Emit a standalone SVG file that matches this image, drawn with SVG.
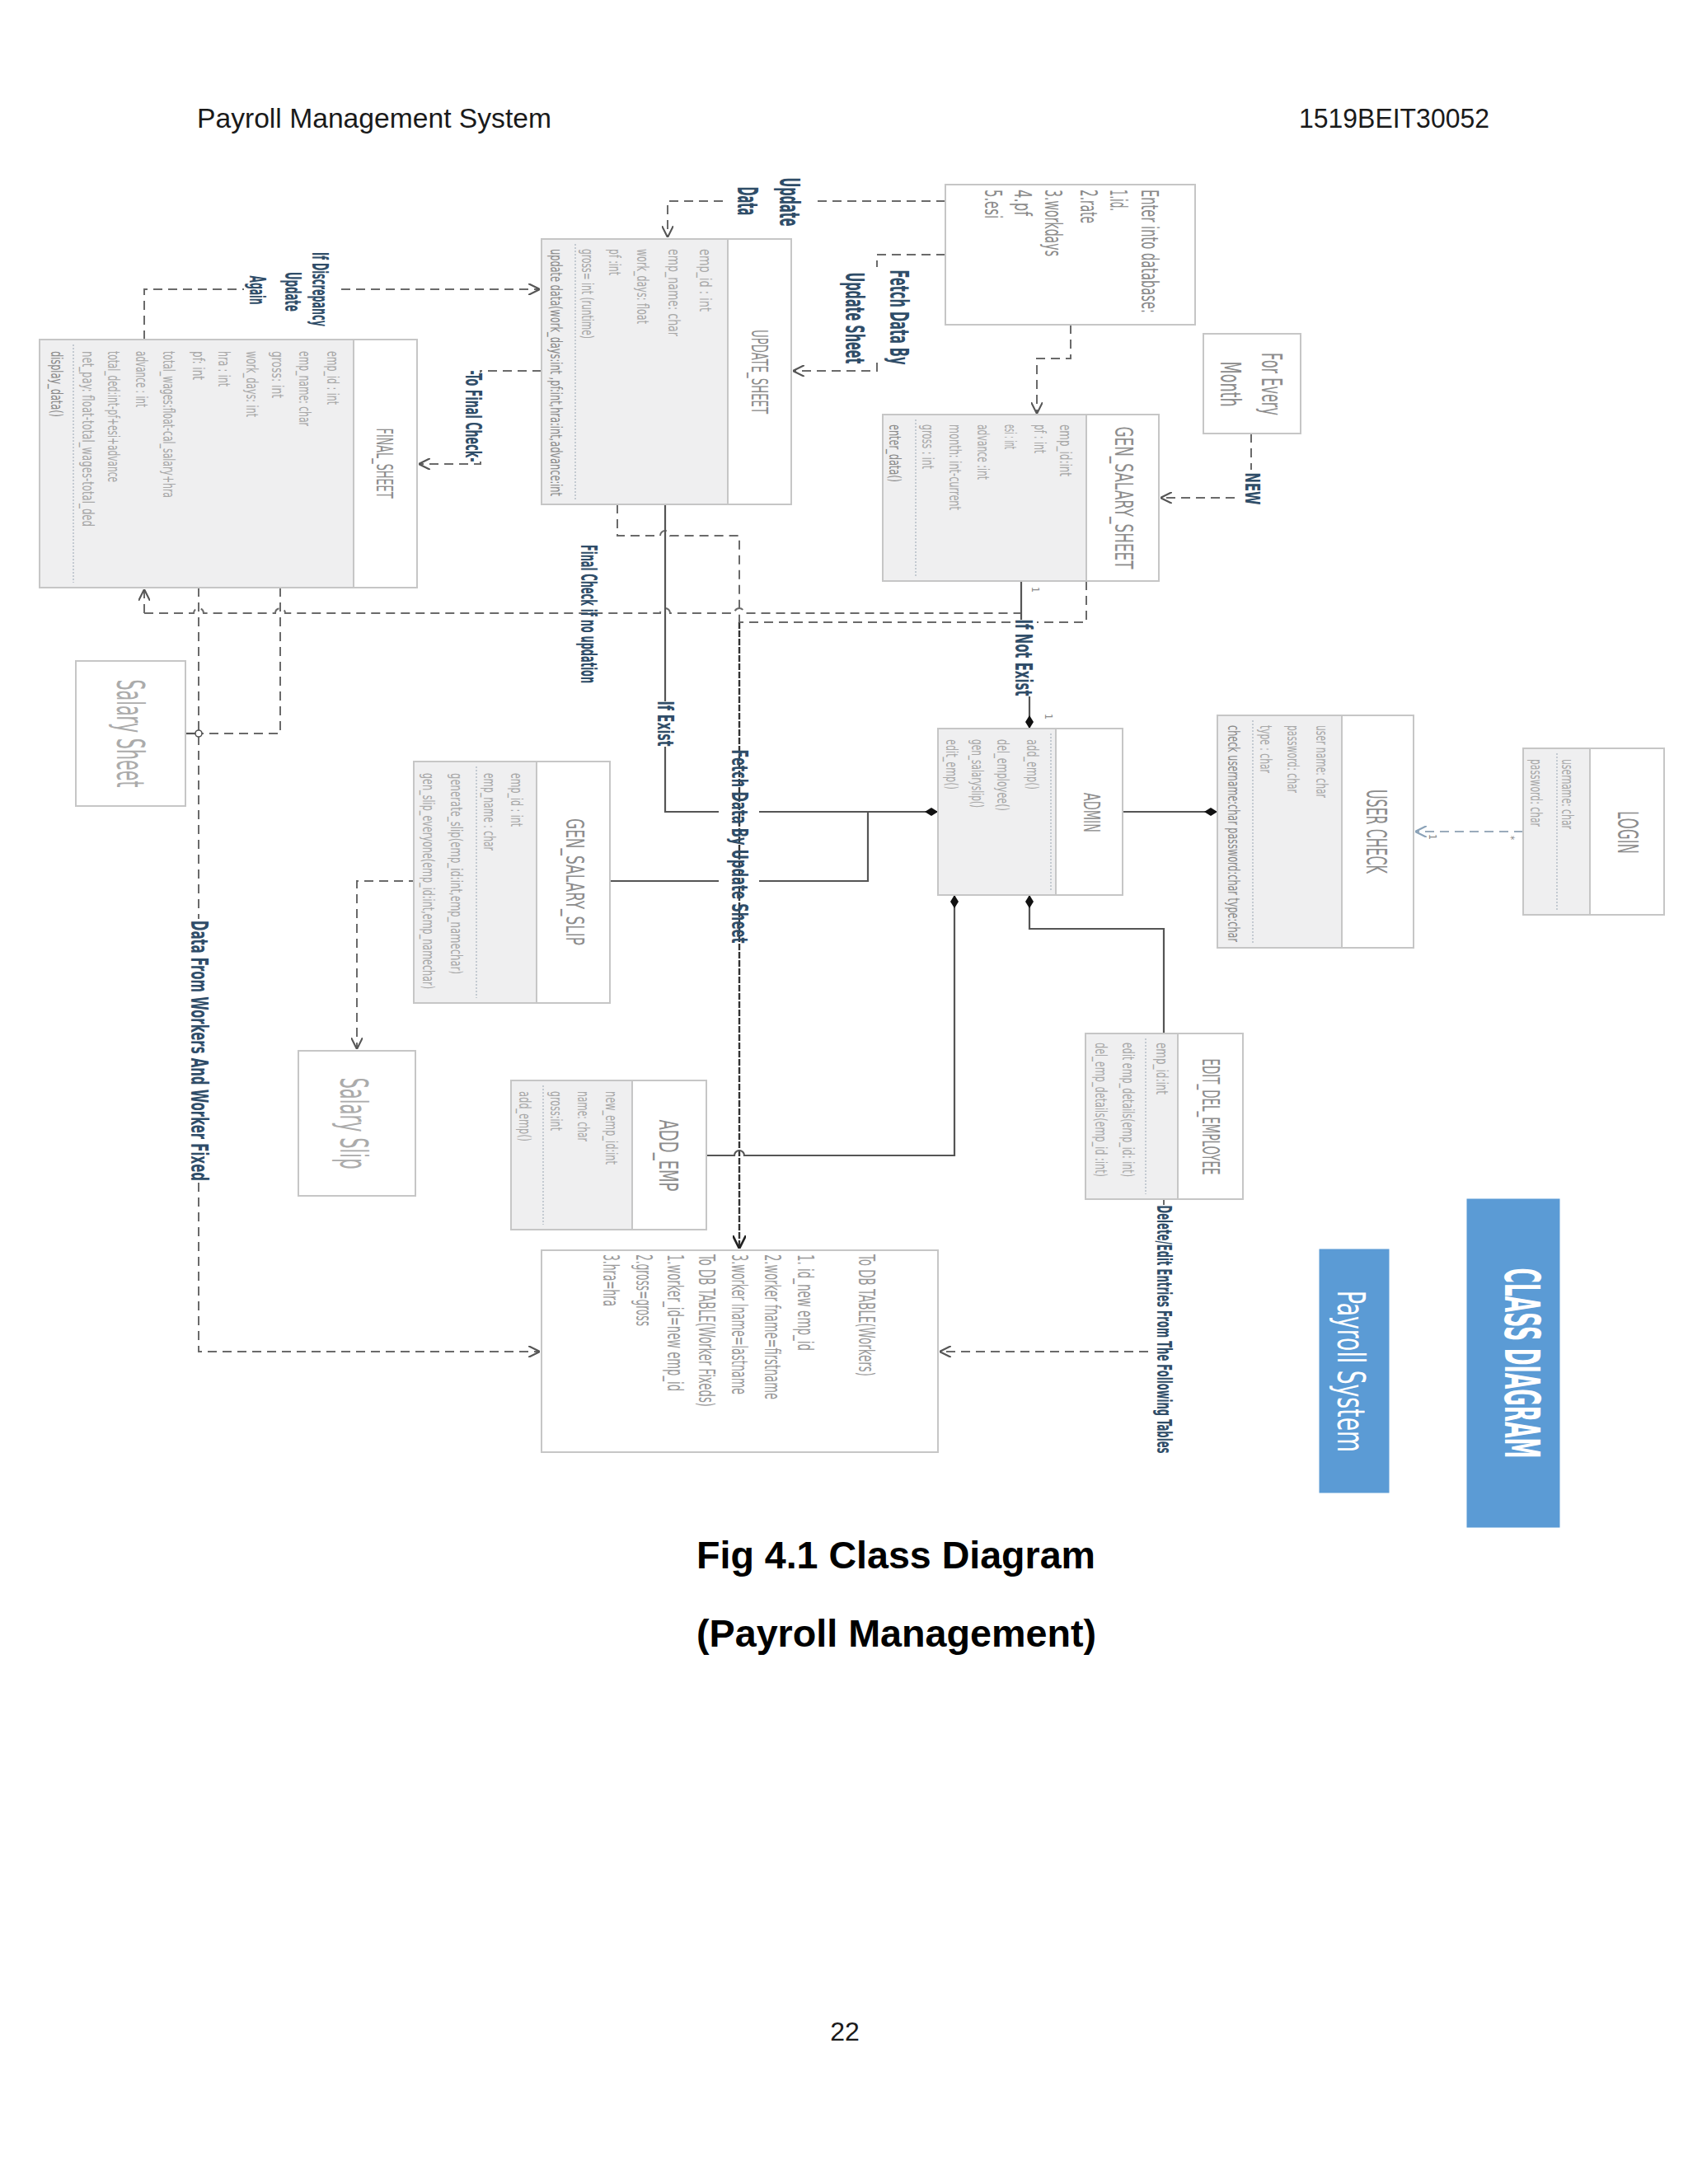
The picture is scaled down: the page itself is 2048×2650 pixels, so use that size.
<svg xmlns="http://www.w3.org/2000/svg" width="2048" height="2650" viewBox="0 0 2048 2650">
<style>
.bg{fill:#ffffff}
.box{fill:#efeff0;stroke:#c6c6c6;stroke-width:2}
.hdr{fill:#ffffff;stroke:#c6c6c6;stroke-width:2}
.wbox{fill:#ffffff;stroke:#c6c6c6;stroke-width:2}
.dsep{stroke:#b9c1ca;stroke-width:1.6;stroke-dasharray:2 2}
.blue{fill:#5b9bd5;stroke:#ffffff;stroke-width:3}
text{font-family:'Liberation Sans Narrow','DejaVu Sans Condensed','Liberation Sans',sans-serif}
.t{fill:#a8a8a8;font-size:20px}
.m{fill:#8a8a8a;font-size:20px}
.tt{fill:#8c8c8c}
.big{fill:#ababab;font-size:46px}
.db{fill:#999999;font-size:26px}
.en{fill:#8a8a8a;font-size:28px}
.lb{fill:#2f4d68;font-weight:bold}
.wt{fill:#ffffff}
.pg{font-family:'Liberation Sans',Arial,sans-serif;fill:#1a1a1a}
.cap{font-family:'Liberation Sans',Arial,sans-serif;font-weight:bold;fill:#000000;font-size:47px}
.sm{fill:#8a8a8a;font-size:12px}
.dash{fill:none;stroke:#6a6a6a;stroke-width:2;stroke-dasharray:11 7}
.dl{fill:none;stroke:#9aabbb;stroke-width:2;stroke-dasharray:11 7}
.solid{fill:none;stroke:#555555;stroke-width:2.2}
.dk{fill:none;stroke:#333333;stroke-width:2.4;stroke-dasharray:8 2}
</style>
<defs>
<marker id="arr" viewBox="0 0 12 12" refX="12" refY="6" markerWidth="14" markerHeight="14" markerUnits="userSpaceOnUse" orient="auto"><path d="M0,0 L12,6 L0,12" fill="none" stroke="#555555" stroke-width="1.8"/></marker>
<marker id="arrdk" viewBox="0 0 12 12" refX="12" refY="6" markerWidth="16" markerHeight="16" markerUnits="userSpaceOnUse" orient="auto"><path d="M0,0 L12,6 L0,12" fill="none" stroke="#222222" stroke-width="2"/></marker>
<marker id="arrl" viewBox="0 0 12 12" refX="12" refY="6" markerWidth="14" markerHeight="14" markerUnits="userSpaceOnUse" orient="auto"><path d="M0,0 L12,6 L0,12" fill="none" stroke="#8aa2b8" stroke-width="1.8"/></marker>
<marker id="dmE" viewBox="0 0 16 10" refX="16" refY="5" markerWidth="16" markerHeight="10" markerUnits="userSpaceOnUse" orient="auto"><path d="M0,5 L8,0 L16,5 L8,10 Z" fill="#111111"/></marker>
<marker id="dmS" viewBox="0 0 16 10" refX="0" refY="5" markerWidth="16" markerHeight="10" markerUnits="userSpaceOnUse" orient="auto"><path d="M0,5 L8,0 L16,5 L8,10 Z" fill="#111111"/></marker>
</defs>
<rect class="bg" x="0" y="0" width="2048" height="2650"/>

<!-- page header / caption -->
<g id="page">
<text class="pg" x="239" y="155" font-size="34" textLength="430" lengthAdjust="spacingAndGlyphs">Payroll Management System</text>
<text class="pg" x="1576" y="155" font-size="34" textLength="231" lengthAdjust="spacingAndGlyphs">1519BEIT30052</text>
<text class="cap" x="845" y="1903" textLength="484" lengthAdjust="spacingAndGlyphs">Fig 4.1 Class Diagram</text>
<text class="cap" x="845" y="1998" textLength="485" lengthAdjust="spacingAndGlyphs">(Payroll Management)</text>
<text class="pg" x="1025" y="2476" font-size="32" text-anchor="middle">22</text>
</g>

<!-- connectors -->
<g id="connectors">
<path class="dash" d="M1147,244 H985"/>
<path class="dash" d="M877,244 H810 V288" marker-end="url(#arr)"/>
<path class="dash" d="M1147,309 H1064 V324"/>
<path class="dash" d="M1064,440 V450 H962" marker-end="url(#arr)"/>
<path class="dash" d="M1299,394 V435 H1258 V502" marker-end="url(#arr)"/>
<path class="dash" d="M1518,526 V570"/>
<path class="dash" d="M1498,604 H1408" marker-end="url(#arr)"/>
<path class="dash" d="M657,450 H583 V452"/>
<path class="dash" d="M583,560 V563 H508" marker-end="url(#arr)"/>
<path class="dash" d="M175,412 V351 H296"/>
<path class="dash" d="M414,351 H655" marker-end="url(#arr)"/>
<path class="dash" d="M749,612 V650 H801 a6,6 0 0 1 12,0 H897 V755"/>
<path class="dk" d="M897,755 V1515" marker-end="url(#arrdk)"/>
<path class="dash" d="M1318,705 V755 H1258"/>
<path class="dash" d="M1226,755 H897"/>
<path class="dash" d="M175,744 H235 a6,6 0 0 1 12,0 H334 a6,6 0 0 1 12,0 H801 a6,6 0 0 1 12,0 H891 a6,6 0 0 1 12,0 H1239"/>
<path class="dash" d="M175,744 V715" marker-end="url(#arr)"/>
<path class="solid" d="M1239,705 V752"/>
<path class="solid" d="M1249,845 V884" marker-end="url(#dmE)"/>
<text class="sm" transform="translate(1268,866) rotate(90)">1</text>
<text class="sm" transform="translate(1252,712) rotate(90)">1</text>
<path class="solid" d="M807,612 V851"/>
<path class="solid" d="M807,906 V985 H872"/>
<path class="solid" d="M921,985 H1138" marker-end="url(#dmE)"/>
<path class="solid" d="M740,1069 H872"/>
<path class="solid" d="M921,1069 H1053 V985"/>
<path class="solid" d="M1158,1086 V1402 H903 a6,6 0 0 0 -12,0 H857" marker-start="url(#dmS)"/>
<path class="solid" d="M1249,1086 V1127 H1412 V1254" marker-start="url(#dmS)"/>
<path class="solid" d="M1362,985 H1477" marker-end="url(#dmE)"/>
<path class="dl" d="M1848,1009 H1717" marker-end="url(#arrl)"/>
<text class="sm" transform="translate(1734,1012) rotate(90)">1</text>
<text class="sm" transform="translate(1829,1014) rotate(90)">*</text>
<path class="dash" d="M1412,1455 V1462"/>
<path class="dash" d="M1393,1640 H1140" marker-end="url(#arr)"/>
<path class="dash" d="M241,713 V1115"/>
<path class="dash" d="M241,1435 V1640 H655" marker-end="url(#arr)"/>
<path class="dash" d="M340,713 V890 H241"/>
<path class="solid" d="M225,890 H237"/>
<circle cx="241" cy="890" r="4" fill="#ffffff" stroke="#555555" stroke-width="1.6"/>
<path class="dash" d="M507,1069 H433 V1273" marker-end="url(#arr)"/>
</g>

<!-- FINAL_SHEET -->
<g id="final_sheet">
<rect class="box" x="48" y="412" width="458" height="301"/>
<rect class="hdr" x="429" y="412" width="77" height="301"/>
<line class="dsep" x1="89" y1="418" x2="89" y2="707"/>
<text class="tt" font-size="26" text-anchor="middle" transform="translate(457,562) rotate(90)" textLength="85" lengthAdjust="spacingAndGlyphs">FINAL_SHEET</text>
<text class="t" transform="translate(397,426) rotate(90)" textLength="65" lengthAdjust="spacingAndGlyphs">emp_id : int</text>
<text class="t" transform="translate(363,426) rotate(90)" textLength="91" lengthAdjust="spacingAndGlyphs">emp_name: char</text>
<text class="t" transform="translate(330,426) rotate(90)" textLength="57" lengthAdjust="spacingAndGlyphs">gross: int</text>
<text class="t" transform="translate(299,426) rotate(90)" textLength="80" lengthAdjust="spacingAndGlyphs">work_days: int</text>
<text class="t" transform="translate(265,426) rotate(90)" textLength="43" lengthAdjust="spacingAndGlyphs">hra : int</text>
<text class="t" transform="translate(234,426) rotate(90)" textLength="35" lengthAdjust="spacingAndGlyphs">pf: int</text>
<text class="t" transform="translate(198,426) rotate(90)" textLength="178" lengthAdjust="spacingAndGlyphs">total_wages:float-cal_salary+hra</text>
<text class="t" transform="translate(165,426) rotate(90)" textLength="68" lengthAdjust="spacingAndGlyphs">advance : int</text>
<text class="t" transform="translate(131,426) rotate(90)" textLength="159" lengthAdjust="spacingAndGlyphs">total_ded:int-pf+esi+advance</text>
<text class="t" transform="translate(100,426) rotate(90)" textLength="213" lengthAdjust="spacingAndGlyphs">net_pay: float-total_wages-total_ded</text>
<text class="m" transform="translate(62,426) rotate(90)" textLength="80" lengthAdjust="spacingAndGlyphs">display_data()</text>
</g>

<!-- UPDATE_SHEET -->
<g id="update_sheet">
<rect class="box" x="657" y="290" width="303" height="322"/>
<rect class="hdr" x="883" y="290" width="77" height="322"/>
<line class="dsep" x1="698" y1="296" x2="698" y2="606"/>
<text class="tt" font-size="26" text-anchor="middle" transform="translate(912,451) rotate(90)" textLength="102" lengthAdjust="spacingAndGlyphs">UPDATE_SHEET</text>
<text class="t" font-size="22" transform="translate(849,302) rotate(90)" textLength="76" lengthAdjust="spacingAndGlyphs">emp_id : int</text>
<text class="t" font-size="22" transform="translate(811,302) rotate(90)" textLength="106" lengthAdjust="spacingAndGlyphs">emp_name: char</text>
<text class="t" font-size="22" transform="translate(773,302) rotate(90)" textLength="91" lengthAdjust="spacingAndGlyphs">work_days: float</text>
<text class="t" font-size="22" transform="translate(739,302) rotate(90)" textLength="32" lengthAdjust="spacingAndGlyphs">pf :int</text>
<text class="t" font-size="22" transform="translate(706,302) rotate(90)" textLength="109" lengthAdjust="spacingAndGlyphs">gross= int (runtime)</text>
<text class="m" font-size="22" transform="translate(668,302) rotate(90)" textLength="300" lengthAdjust="spacingAndGlyphs">update data(work_days:int ,pf:int,hra:int,advance:int</text>
</g>

<!-- Enter into database -->
<g id="enter_db">
<rect class="wbox" x="1147" y="224" width="303" height="170"/>
<text class="en" transform="translate(1385,230) rotate(90)" textLength="150" lengthAdjust="spacingAndGlyphs">Enter into database:</text>
<text class="en" transform="translate(1347,230) rotate(90)" textLength="26" lengthAdjust="spacingAndGlyphs">1.id.</text>
<text class="en" transform="translate(1311,230) rotate(90)" textLength="41" lengthAdjust="spacingAndGlyphs">2.rate</text>
<text class="en" transform="translate(1268,230) rotate(90)" textLength="81" lengthAdjust="spacingAndGlyphs">3.workdays</text>
<text class="en" transform="translate(1231,230) rotate(90)" textLength="32" lengthAdjust="spacingAndGlyphs">4.pf</text>
<text class="en" transform="translate(1195,230) rotate(90)" textLength="35" lengthAdjust="spacingAndGlyphs">5.esi</text>
</g>

<!-- For Every Month -->
<g id="for_every_month">
<rect class="wbox" x="1460" y="405" width="118" height="121"/>
<text class="tt" font-size="34" text-anchor="middle" transform="translate(1531,466) rotate(90)" textLength="76" lengthAdjust="spacingAndGlyphs">For Every</text>
<text class="tt" font-size="34" text-anchor="middle" transform="translate(1481,466) rotate(90)" textLength="55" lengthAdjust="spacingAndGlyphs">Month</text>
</g>

<!-- GEN_SALARY_SHEET -->
<g id="gen_salary_sheet">
<rect class="box" x="1071" y="503" width="335" height="202"/>
<rect class="hdr" x="1318" y="503" width="88" height="202"/>
<line class="dsep" x1="1111" y1="509" x2="1111" y2="699"/>
<text class="tt" font-size="30" text-anchor="middle" transform="translate(1353,604) rotate(90)" textLength="173" lengthAdjust="spacingAndGlyphs">GEN_SALARY_SHEET</text>
<text class="t" font-size="21" transform="translate(1286,515) rotate(90)" textLength="63" lengthAdjust="spacingAndGlyphs">emp_id:int</text>
<text class="t" font-size="21" transform="translate(1255,515) rotate(90)" textLength="35" lengthAdjust="spacingAndGlyphs">pf : int</text>
<text class="t" font-size="21" transform="translate(1219,515) rotate(90)" textLength="30" lengthAdjust="spacingAndGlyphs">esi : int</text>
<text class="t" font-size="21" transform="translate(1186,515) rotate(90)" textLength="67" lengthAdjust="spacingAndGlyphs">advance :int</text>
<text class="t" font-size="21" transform="translate(1152,515) rotate(90)" textLength="104" lengthAdjust="spacingAndGlyphs">month: int-current</text>
<text class="t" font-size="21" transform="translate(1119,515) rotate(90)" textLength="54" lengthAdjust="spacingAndGlyphs">gross : int</text>
<text class="m" font-size="21" transform="translate(1079,515) rotate(90)" textLength="70" lengthAdjust="spacingAndGlyphs">enter_data()</text>
</g>

<!-- ADMIN -->
<g id="admin">
<rect class="box" x="1138" y="884" width="224" height="202"/>
<rect class="hdr" x="1281" y="884" width="81" height="202"/>
<line class="dsep" x1="1275" y1="890" x2="1275" y2="1080"/>
<text class="tt" font-size="26" text-anchor="middle" transform="translate(1315,986) rotate(90)" textLength="48" lengthAdjust="spacingAndGlyphs">ADMIN</text>
<text class="t" font-size="21" transform="translate(1246,897) rotate(90)" textLength="61" lengthAdjust="spacingAndGlyphs">add_emp()</text>
<text class="t" font-size="21" transform="translate(1210,897) rotate(90)" textLength="87" lengthAdjust="spacingAndGlyphs">del_employee()</text>
<text class="t" font-size="21" transform="translate(1179,897) rotate(90)" textLength="83" lengthAdjust="spacingAndGlyphs">gen_salaryslip()</text>
<text class="t" font-size="21" transform="translate(1148,897) rotate(90)" textLength="61" lengthAdjust="spacingAndGlyphs">edit_emp()</text>
</g>

<!-- USER CHECK -->
<g id="user_check">
<rect class="box" x="1477" y="868" width="238" height="282"/>
<rect class="hdr" x="1628" y="868" width="87" height="282"/>
<line class="dsep" x1="1520" y1="874" x2="1520" y2="1144"/>
<text class="tt" font-size="34" text-anchor="middle" transform="translate(1658,1009) rotate(90)" textLength="102" lengthAdjust="spacingAndGlyphs">USER CHECK</text>
<text class="t" font-size="21" transform="translate(1597,880) rotate(90)" textLength="88" lengthAdjust="spacingAndGlyphs">user name: char</text>
<text class="t" font-size="21" transform="translate(1562,880) rotate(90)" textLength="82" lengthAdjust="spacingAndGlyphs">password: char</text>
<text class="t" font-size="21" transform="translate(1529,880) rotate(90)" textLength="58" lengthAdjust="spacingAndGlyphs">type : char</text>
<text class="m" font-size="21" fill="#6a6a6a" transform="translate(1490,880) rotate(90)" textLength="263" lengthAdjust="spacingAndGlyphs">check username:char password:char  type:char</text>
</g>

<!-- LOGIN -->
<g id="login">
<rect class="box" x="1848" y="908" width="171" height="202"/>
<rect class="hdr" x="1929" y="908" width="90" height="202"/>
<line class="dsep" x1="1889" y1="914" x2="1889" y2="1104"/>
<text class="tt" font-size="34" text-anchor="middle" transform="translate(1963,1010) rotate(90)" textLength="52" lengthAdjust="spacingAndGlyphs">LOGIN</text>
<text class="t" font-size="21" transform="translate(1895,921) rotate(90)" textLength="85" lengthAdjust="spacingAndGlyphs">username: char</text>
<text class="t" font-size="21" transform="translate(1857,921) rotate(90)" textLength="82" lengthAdjust="spacingAndGlyphs">password: char</text>
</g>

<!-- GEN_SALARY_SLIP -->
<g id="gen_salary_slip">
<rect class="box" x="502" y="924" width="238" height="293"/>
<rect class="hdr" x="651" y="924" width="89" height="293"/>
<line class="dsep" x1="578" y1="930" x2="578" y2="1211"/>
<text class="tt" font-size="30" text-anchor="middle" transform="translate(687,1070) rotate(90)" textLength="154" lengthAdjust="spacingAndGlyphs">GEN_SALARY_SLIP</text>
<text class="t" transform="translate(620,938) rotate(90)" textLength="65" lengthAdjust="spacingAndGlyphs">emp_id : int</text>
<text class="t" transform="translate(587,938) rotate(90)" textLength="94" lengthAdjust="spacingAndGlyphs">emp_name : char</text>
<text class="t" transform="translate(547,938) rotate(90)" textLength="244" lengthAdjust="spacingAndGlyphs">generate_slip(emp_id:int,emp_namechar)</text>
<text class="t" transform="translate(513,938) rotate(90)" textLength="262" lengthAdjust="spacingAndGlyphs">gen_slip_everyone(emp_id:int,emp_namechar)</text>
</g>

<!-- Salary Sheet -->
<g id="salary_sheet">
<rect class="wbox" x="92" y="802" width="133" height="176"/>
<text class="big" text-anchor="middle" transform="translate(142,890) rotate(90)" textLength="131" lengthAdjust="spacingAndGlyphs">Salary Sheet</text>
</g>

<!-- Salary Slip -->
<g id="salary_slip">
<rect class="wbox" x="362" y="1275" width="142" height="176"/>
<text class="big" text-anchor="middle" transform="translate(413,1363) rotate(90)" textLength="111" lengthAdjust="spacingAndGlyphs">Salary Slip</text>
</g>

<!-- ADD_EMP -->
<g id="add_emp">
<rect class="box" x="620" y="1311" width="237" height="181"/>
<rect class="hdr" x="767" y="1311" width="90" height="181"/>
<line class="dsep" x1="659" y1="1317" x2="659" y2="1486"/>
<text class="tt" font-size="32" text-anchor="middle" transform="translate(800,1402) rotate(90)" textLength="87" lengthAdjust="spacingAndGlyphs">ADD_EMP</text>
<text class="t" font-size="21" transform="translate(735,1324) rotate(90)" textLength="89" lengthAdjust="spacingAndGlyphs">new_emp_id:int</text>
<text class="t" font-size="21" transform="translate(701,1324) rotate(90)" textLength="61" lengthAdjust="spacingAndGlyphs">name: char</text>
<text class="t" font-size="21" transform="translate(668,1324) rotate(90)" textLength="48" lengthAdjust="spacingAndGlyphs">gross:int</text>
<text class="t" font-size="21" transform="translate(630,1324) rotate(90)" textLength="61" lengthAdjust="spacingAndGlyphs">add_emp()</text>
</g>

<!-- DB tables -->
<g id="db_tables">
<rect class="wbox" x="657" y="1517" width="481" height="245"/>
<text class="db" transform="translate(1042,1522) rotate(90)" textLength="148" lengthAdjust="spacingAndGlyphs">To DB TABLE(Workers)</text>
<text class="db" transform="translate(968,1522) rotate(90)" textLength="117" lengthAdjust="spacingAndGlyphs">1. id_new emp_id</text>
<text class="db" transform="translate(928,1522) rotate(90)" textLength="176" lengthAdjust="spacingAndGlyphs">2.worker fname=firstname</text>
<text class="db" transform="translate(888,1522) rotate(90)" textLength="170" lengthAdjust="spacingAndGlyphs">3.worker lname=lastname</text>
<text class="db" transform="translate(848,1522) rotate(90)" textLength="185" lengthAdjust="spacingAndGlyphs">To DB TABLE(Worker Fixeds)</text>
<text class="db" transform="translate(810,1522) rotate(90)" textLength="166" lengthAdjust="spacingAndGlyphs">1.worker_id=new emp_id</text>
<text class="db" transform="translate(772,1522) rotate(90)" textLength="87" lengthAdjust="spacingAndGlyphs">2.gross=gross</text>
<text class="db" transform="translate(732,1522) rotate(90)" textLength="63" lengthAdjust="spacingAndGlyphs">3.hra=hra</text>
</g>

<!-- EDIT_DEL_EMPLOYEE -->
<g id="edit_del_employee">
<rect class="box" x="1317" y="1254" width="191" height="201"/>
<rect class="hdr" x="1429" y="1254" width="79" height="201"/>
<line class="dsep" x1="1390" y1="1260" x2="1390" y2="1449"/>
<text class="tt" font-size="28" text-anchor="middle" transform="translate(1459,1355) rotate(90)" textLength="141" lengthAdjust="spacingAndGlyphs">EDIT_DEL_EMPLOYEE</text>
<text class="t" transform="translate(1403,1265) rotate(90)" textLength="63" lengthAdjust="spacingAndGlyphs">emp_id:int</text>
<text class="t" transform="translate(1362,1265) rotate(90)" textLength="163" lengthAdjust="spacingAndGlyphs">edit emp_details(emp_id: int)</text>
<text class="t" transform="translate(1329,1265) rotate(90)" textLength="163" lengthAdjust="spacingAndGlyphs">del_emp_details(emp_id :int)</text>
</g>

<!-- title banners -->
<g id="payroll_system">
<rect class="blue" x="1599" y="1514" width="88" height="299"/>
<text class="wt" font-size="46" text-anchor="middle" transform="translate(1623,1664) rotate(90)" textLength="196" lengthAdjust="spacingAndGlyphs">Payroll System</text>
</g>
<g id="class_diagram">
<rect class="blue" x="1778" y="1453" width="116" height="402"/>
<text class="wt" font-size="58" font-weight="bold" text-anchor="middle" transform="translate(1826,1654) rotate(90)" textLength="231" lengthAdjust="spacingAndGlyphs">CLASS DIAGRAM</text>
</g>

<!-- connector labels -->
<g id="labels">
<text class="lb" font-size="26" text-anchor="middle" transform="translate(379,351) rotate(90)" textLength="90" lengthAdjust="spacingAndGlyphs">If Discrepancy</text>
<text class="lb" font-size="26" text-anchor="middle" transform="translate(346,354) rotate(90)" textLength="48" lengthAdjust="spacingAndGlyphs">Update</text>
<text class="lb" font-size="26" text-anchor="middle" transform="translate(303,352) rotate(90)" textLength="35" lengthAdjust="spacingAndGlyphs">Again</text>
<text class="lb" font-size="26" text-anchor="middle" transform="translate(565,505) rotate(90)" textLength="111" lengthAdjust="spacingAndGlyphs">-To Final Check-</text>
<text class="lb" font-size="34" text-anchor="middle" transform="translate(946,245) rotate(90)" textLength="59" lengthAdjust="spacingAndGlyphs">Update</text>
<text class="lb" font-size="34" text-anchor="middle" transform="translate(895,244) rotate(90)" textLength="35" lengthAdjust="spacingAndGlyphs">Data</text>
<text class="lb" font-size="32" text-anchor="middle" transform="translate(1080,385) rotate(90)" textLength="115" lengthAdjust="spacingAndGlyphs">Fetch Data By</text>
<text class="lb" font-size="32" text-anchor="middle" transform="translate(1026,386) rotate(90)" textLength="111" lengthAdjust="spacingAndGlyphs">Update Sheet</text>
<text class="lb" font-size="24" text-anchor="middle" transform="translate(1511,593) rotate(90)" textLength="39" lengthAdjust="spacingAndGlyphs">NEW</text>
<text class="lb" font-size="26" text-anchor="middle" transform="translate(705,745) rotate(90)" textLength="168" lengthAdjust="spacingAndGlyphs">Final Check if no updation</text>
<text class="lb" font-size="26" text-anchor="middle" transform="translate(798,878) rotate(90)" textLength="55" lengthAdjust="spacingAndGlyphs">If Exist</text>
<text class="lb" font-size="26" text-anchor="middle" transform="translate(888,1027) rotate(90)" textLength="235" lengthAdjust="spacingAndGlyphs">Fetch Data By Update Sheet</text>
<text class="lb" font-size="28" text-anchor="middle" transform="translate(1232,798) rotate(90)" textLength="93" lengthAdjust="spacingAndGlyphs">If Not Exist</text>
<text class="lb" font-size="28" text-anchor="middle" transform="translate(232,1275) rotate(90)" textLength="316" lengthAdjust="spacingAndGlyphs">Data From Workers And Worker Fixed</text>
<text class="lb" font-size="24" text-anchor="middle" transform="translate(1404,1613) rotate(90)" textLength="301" lengthAdjust="spacingAndGlyphs">Delete/Edit Entries From The Following Tables</text>
</g>
</svg>
